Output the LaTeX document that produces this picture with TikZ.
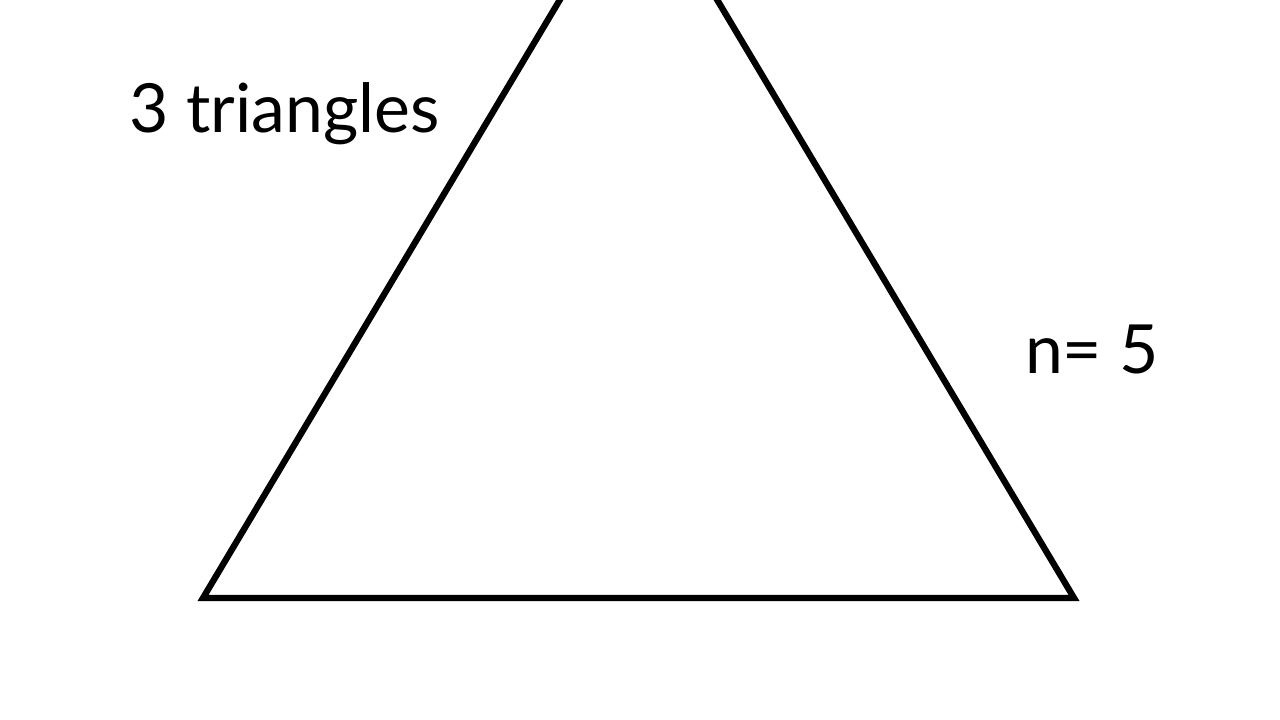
\documentclass[tikz,border=0pt]{standalone}
\usepackage{fontspec}
\setmainfont{Lato}
\usepackage{tikz}

\begin{document}
\begin{tikzpicture}[label text/.style={font=\fontsize{19.3}{22}\selectfont}]
\useasboundingbox (0,0) rectangle (12.8,7.2);
\clip (0,0) rectangle (12.8,7.2);
\coordinate (a) at (2.03,1.22);
\coordinate (b) at (10.74,1.22);
\coordinate (c) at (6.385,8.52);
\draw[line width=1.8pt, line join=miter] (a) -- (b) -- (c) -- cycle;
\node[label text] (t) at (2.845,6.06) {3 triangles};
\node[label text] (n) at (10.92,3.71) {n= 5};
\end{tikzpicture}
\end{document}
